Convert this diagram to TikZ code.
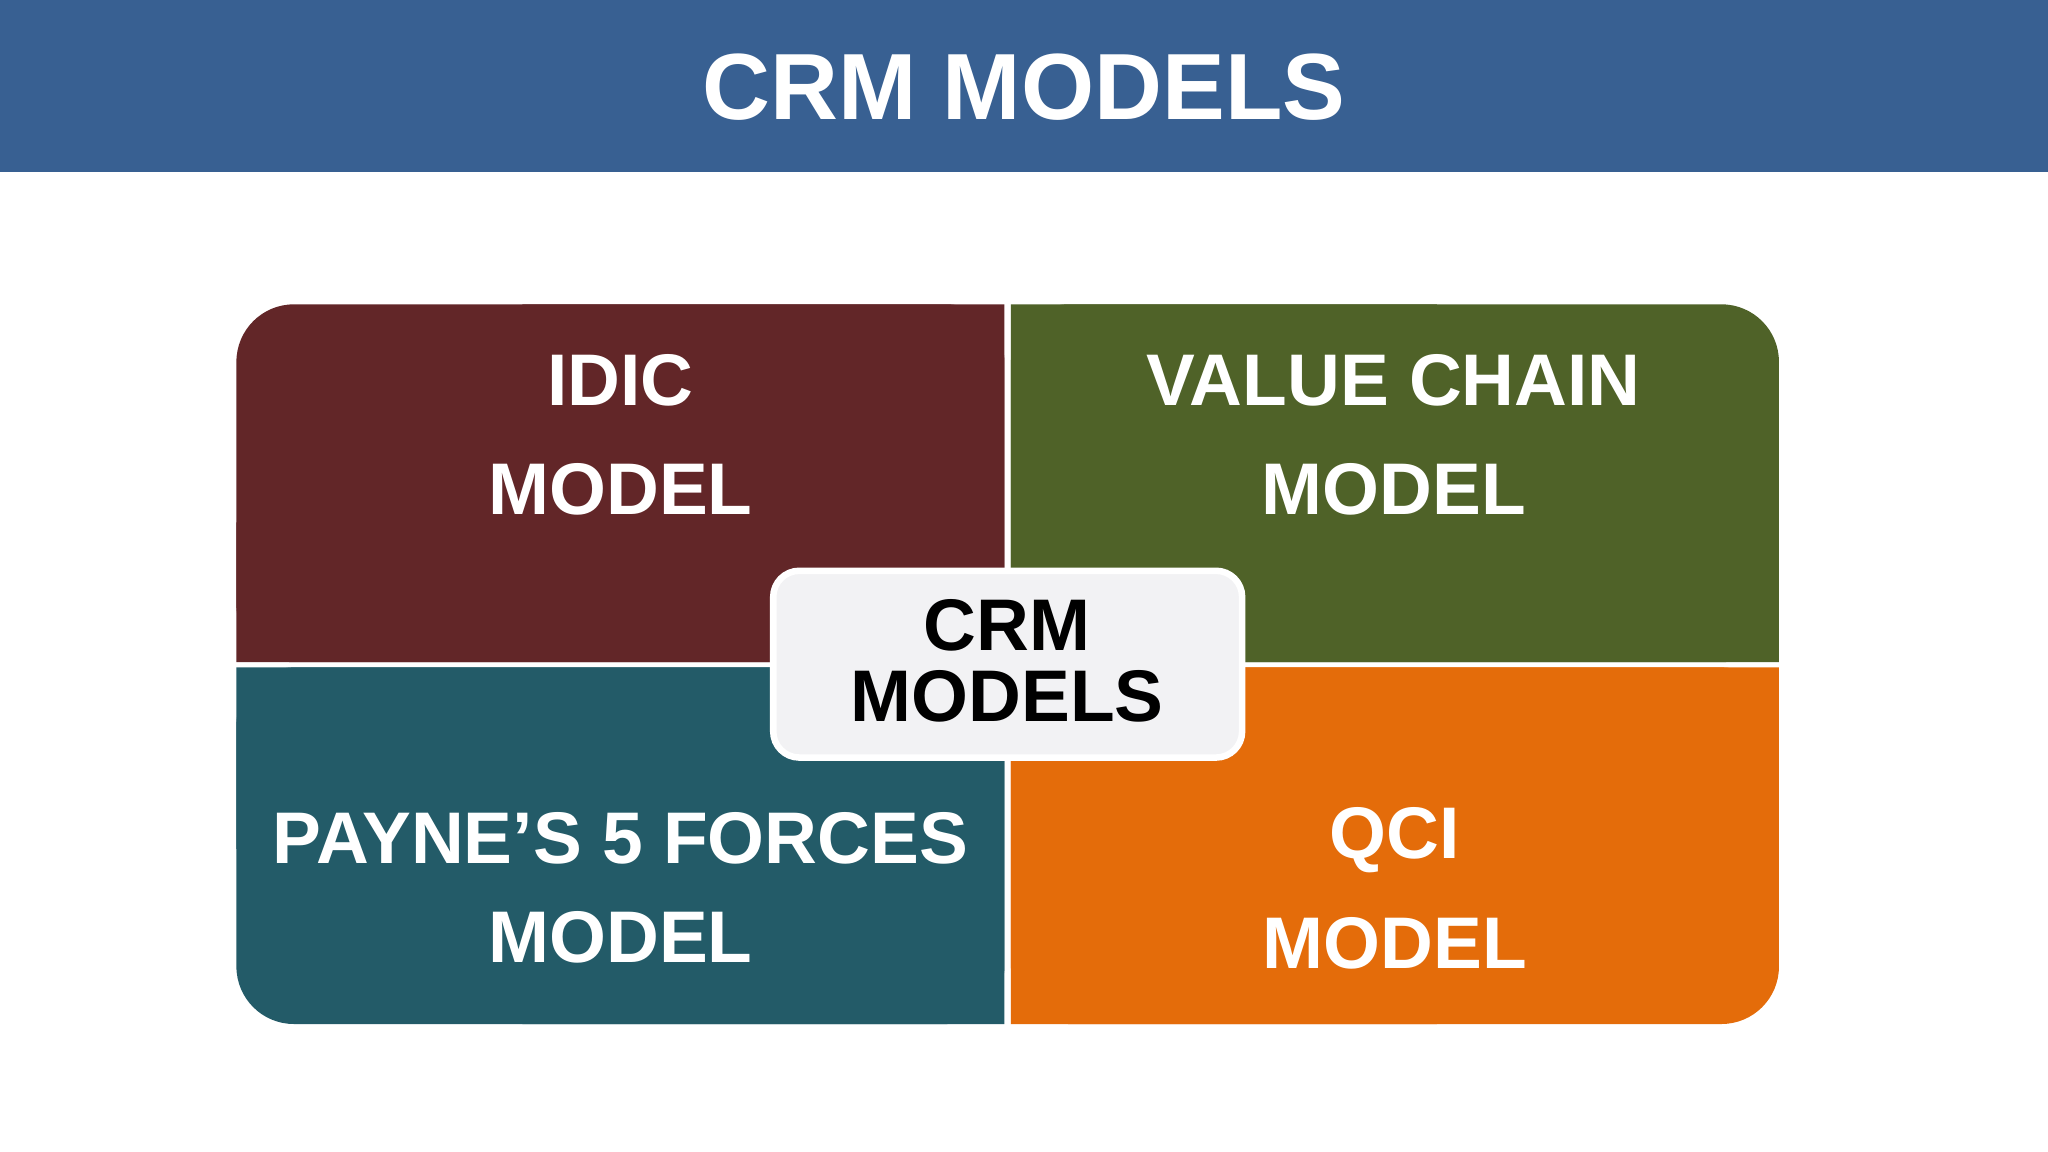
\documentclass[tikz,border=0pt]{standalone}
\usepackage{fontspec}
\setmainfont{Liberation Sans}
\definecolor{hdr}{HTML}{386092}
\definecolor{cidic}{HTML}{622628}
\definecolor{cval}{HTML}{4F6228}
\definecolor{cpay}{HTML}{235B68}
\definecolor{cqci}{HTML}{E46C0A}
\definecolor{cctr}{HTML}{F2F2F4}
\begin{document}
\begin{tikzpicture}[x=0.5pt,y=-0.5pt,
  lbl/.style={text=white,font=\fontsize{28}{38}\selectfont\bfseries,align=center},
  ctr/.style={text=black,font=\fontsize{28}{27}\selectfont\bfseries,align=center}]
\useasboundingbox (0,0) rectangle (1568,882);
\fill[white] (0,0) rectangle (1568,882);
\fill[hdr] (0,0) rectangle (1568,132);
\node (title) at (784,67) {\textcolor{white}{\fontsize{36}{40}\selectfont\bfseries CRM MODELS}};
\fill[cidic,rounded corners=22pt] (181,233) rectangle (769,507);
\fill[cidic] (400,233) rectangle (769,507) (181,400) rectangle (769,507);
\fill[cval,rounded corners=22pt] (774,233) rectangle (1362,507);
\fill[cval] (774,233) rectangle (1100,507) (774,400) rectangle (1362,507);
\fill[cpay,rounded corners=22pt] (181,511) rectangle (769,784);
\fill[cpay] (181,511) rectangle (769,650) (400,511) rectangle (769,784);
\fill[cqci,rounded corners=22pt] (774,511) rectangle (1362,784);
\fill[cqci] (774,511) rectangle (1362,650) (774,511) rectangle (1100,784);
\node[lbl] (idic) at (475,333) {IDIC\\[4pt]MODEL};
\node[lbl] (val) at (1067,333) {VALUE CHAIN\\[4pt]MODEL};
\node[lbl] (pay) at (475,680) {PAYNE’S 5 FORCES\\MODEL};
\node[lbl] (qci) at (1068,680) {QCI\\[4pt]MODEL};
\draw[white,line width=2.5pt,fill=cctr,rounded corners=10pt] (592,437) rectangle (951,580);
\node[ctr] (c) at (771,506) {CRM\\MODELS};
\end{tikzpicture}
\end{document}
